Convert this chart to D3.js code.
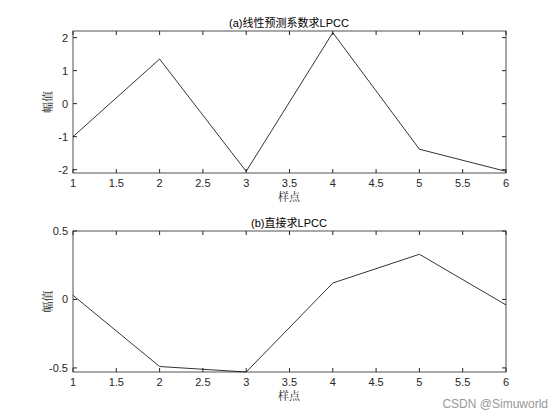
<!DOCTYPE html>
<html><head><meta charset="utf-8">
<script src="https://cdn.jsdelivr.net/npm/d3@7"></script>
<style>body{margin:0;background:#fff}text{font-family:Arial,"Liberation Sans","Noto Sans CJK SC",sans-serif}</style>
</head><body>
<script>
// samples
var samples = [1, 2, 3, 4, 5, 6];
var lpccRecursive = [-1.0, 1.35, -2.05, 2.15, -1.38, -2.05];
var lpccDirect = [0.03, -0.49, -0.53, 0.12, 0.33, -0.04];
var xTicks = [1, 1.5, 2, 2.5, 3, 3.5, 4, 4.5, 5, 5.5, 6];
var yTicksTop = [-2, -1, 0, 1, 2];
var yTicksBottom = [-0.5, 0, 0.5];

var svg = d3.select("body").append("svg").attr("width", 560).attr("height", 420);

function panel(top, bottom, values, yDomain, yTicks, title) {
  var x = d3.scaleLinear().domain([1, 6]).range([73, 506]);
  var y = d3.scaleLinear().domain(yDomain).range([bottom, top]);
  var g = svg.append("g");
  g.append("rect").attr("x", 73).attr("y", top).attr("width", 433).attr("height", bottom - top)
    .attr("fill", "#fff").attr("stroke", "#262626").attr("stroke-width", 0.8);
  xTicks.forEach(function(t) {
    g.append("line").attr("x1", x(t)).attr("x2", x(t)).attr("y1", bottom).attr("y2", bottom - 4).attr("stroke", "#262626");
    g.append("line").attr("x1", x(t)).attr("x2", x(t)).attr("y1", top).attr("y2", top + 4).attr("stroke", "#262626");
    g.append("text").attr("x", x(t)).attr("y", bottom + 14).attr("text-anchor", "middle")
      .attr("font-size", 11).attr("fill", "#262626").text(t);
  });
  yTicks.forEach(function(t) {
    g.append("line").attr("x1", 73).attr("x2", 77).attr("y1", y(t)).attr("y2", y(t)).attr("stroke", "#262626");
    g.append("line").attr("x1", 506).attr("x2", 502).attr("y1", y(t)).attr("y2", y(t)).attr("stroke", "#262626");
    g.append("text").attr("x", 68).attr("y", y(t) + 4).attr("text-anchor", "end")
      .attr("font-size", 11).attr("fill", "#262626").text(t);
  });
  var line = d3.line().x(function(d, i) { return x(samples[i]); }).y(function(d) { return y(d); });
  g.append("path").datum(values).attr("d", line).attr("fill", "none").attr("stroke", "#000").attr("stroke-width", 0.8);
  g.append("text").attr("x", 289).attr("y", top - 4).attr("text-anchor", "middle")
    .attr("font-size", 11).attr("fill", "#000").text(title);
  g.append("text").attr("x", 289).attr("y", bottom + 28).attr("text-anchor", "middle")
    .attr("font-size", 11).attr("fill", "#262626").style("font-family", "'Noto Serif CJK SC','Noto Sans CJK SC',serif").text("样点");
  g.append("text").attr("transform", "translate(52," + ((top + bottom) / 2) + ") rotate(-90)")
    .attr("text-anchor", "middle").attr("font-size", 11).attr("fill", "#262626")
    .style("font-family", "'Noto Serif CJK SC','Noto Sans CJK SC',serif").text("幅值");
}

panel(31, 173, lpccRecursive, [-2.1, 2.2], yTicksTop, "(a)线性预测系数求LPCC");
panel(231, 372, lpccDirect, [-0.53, 0.5], yTicksBottom, "(b)直接求LPCC");

svg.append("text").attr("x", 548).attr("y", 408).attr("text-anchor", "end")
  .attr("font-size", 12).attr("fill", "#999").text("CSDN @Simuworld");
</script>
</body></html>
